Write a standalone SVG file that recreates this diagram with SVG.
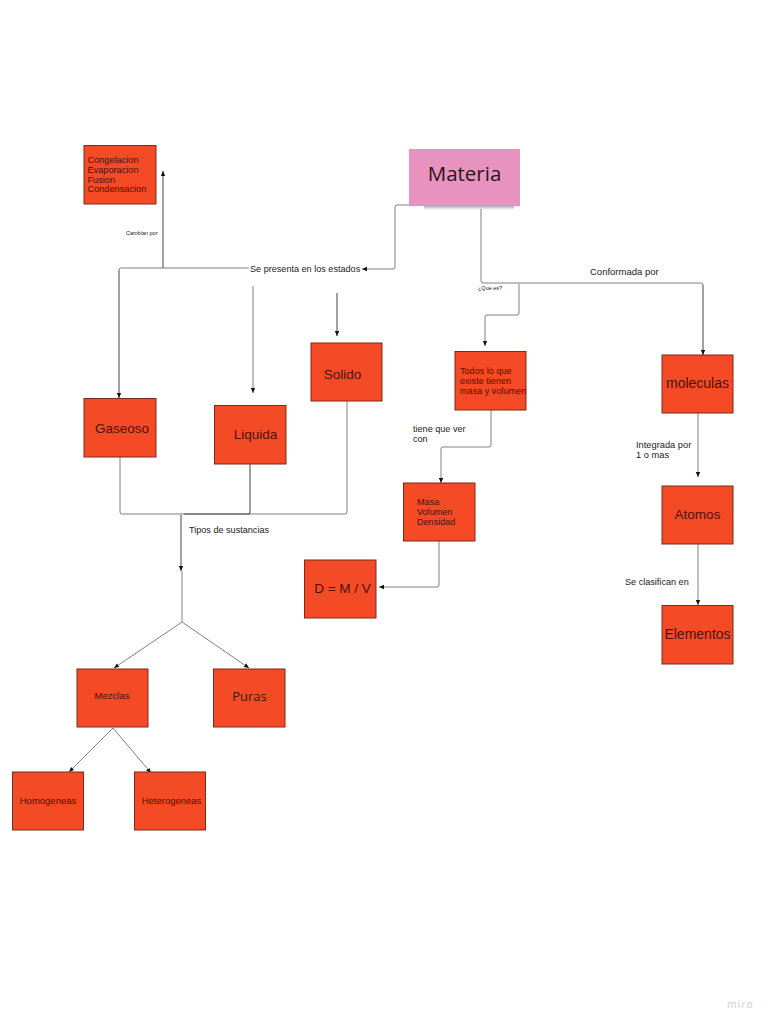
<svg xmlns="http://www.w3.org/2000/svg" width="768" height="1024" viewBox="0 0 768 1024">
<style>
.box{fill:#f44a25;stroke:#7a2b1c;stroke-width:1}
.c{fill:none;stroke:#808080;stroke-width:1}
.d{fill:none;stroke:#555;stroke-width:1.1}
.a{marker-end:url(#ah)}
text{font-family:"Liberation Sans",Arial,sans-serif;fill:#2a1512}
.n{fill:#4a120a}
.l{fill:#222}
</style>
<defs>
<marker id="ah" markerUnits="userSpaceOnUse" markerWidth="6" markerHeight="6" refX="5" refY="2.5" orient="auto"><path d="M0,0.3L5,2.5L0,4.7Z" fill="#111"/></marker>
<linearGradient id="sh" x1="0" y1="0" x2="0" y2="1"><stop offset="0" stop-color="#777" stop-opacity=".8"/><stop offset="1" stop-color="#888" stop-opacity="0"/></linearGradient>
</defs>
<rect width="768" height="1024" fill="#fff"/>
<g id="connectors">
<path class="c a" d="M442 205H397Q395 205 395 207V267Q395 269 393 269H362"/>
<path class="c" d="M250 268H121Q119 268 119 270"/>
<path class="d a" d="M119 270V398"/>
<path class="d a" d="M163 268V171"/>
<path class="c a" d="M253 286V393"/>
<path class="d a" d="M337 293V336"/>
<path class="c" d="M120 457V512Q120 514 122 514H345Q347 514 347 512V401"/>
<path class="d" d="M250 464V512Q250 514 248 514H184"/>
<path class="d a" d="M181 515V571"/>
<path class="c" d="M182 571V622"/>
<path class="c a" d="M182 622L114 668"/>
<path class="c a" d="M182 622L249 668"/>
<path class="c a" d="M113 728L69 772"/>
<path class="c a" d="M113 728L151 773"/>
<path class="c" d="M481 209V281Q481 283 484 283H701Q703 283 703 285"/>
<path class="d a" d="M703 285V355"/>
<path class="c a" d="M519 284V313Q519 315 517 315H487Q485 315 485 317V346"/>
<path class="c a" d="M491 410V445Q491 447 489 447H443Q441 447 441 449V483"/>
<path class="c a" d="M439 541V585Q439 587 437 587H379"/>
<path class="c a" d="M698 413V477"/>
<path class="c a" d="M698 544V605"/>
</g>
<g id="materia">
<rect x="424" y="205" width="90" height="5" fill="url(#sh)"/>
<rect x="409" y="149" width="111" height="57" fill="#e792bf"/>
<text x="464.500" y="180.500" font-size="20.500" text-anchor="middle" style="font-family:'Open Sans','Noto Sans',sans-serif">Materia</text>
</g>
<g id="cambios"><rect class="box" x="84" y="145.500" width="72" height="58.500"/>
<text class="n" font-size="9.200"><tspan x="87.500" y="163">Congelacion</tspan><tspan x="87.500" y="172.800">Evaporacion</tspan><tspan x="87.500" y="182.600">Fusion</tspan><tspan x="87.500" y="192.400">Condensacion</tspan></text></g>
<g id="gaseoso"><rect class="box" x="84" y="398.500" width="72" height="58.500"/><text class="n" x="122" y="433" font-size="13.500" text-anchor="middle">Gaseoso</text></g>
<g id="liquida"><rect class="box" x="214.500" y="405.500" width="71.500" height="58.500"/><text class="n" x="255.500" y="439" font-size="13.500" text-anchor="middle">Liquida</text></g>
<g id="solido"><rect class="box" x="311" y="343" width="71" height="58"/><text class="n" x="342.500" y="379" font-size="13.500" text-anchor="middle">Solido</text></g>
<g id="todos"><rect class="box" x="455" y="351.500" width="71" height="58.500"/>
<text class="n" font-size="9.100"><tspan x="460" y="374">Todos lo que</tspan><tspan x="460" y="384">existe tienen</tspan><tspan x="460" y="393.800">masa y volumen</tspan></text></g>
<g id="moleculas"><rect class="box" x="662" y="355" width="71" height="58"/><text class="n" x="697.500" y="388" font-size="14" text-anchor="middle">moleculas</text></g>
<g id="masa"><rect class="box" x="403.500" y="483" width="71.500" height="58"/>
<text class="n" font-size="9.100"><tspan x="417" y="505">Masa</tspan><tspan x="417" y="514.700">Volumen</tspan><tspan x="417" y="524.500">Densidad</tspan></text></g>
<g id="densidad"><rect class="box" x="304.500" y="560" width="71.500" height="58"/><text class="n" x="342.500" y="593" font-size="13.500" text-anchor="middle">D = M / V</text></g>
<g id="atomos"><rect class="box" x="662" y="486" width="71" height="58"/><text class="n" x="697.500" y="519" font-size="13.500" text-anchor="middle">Atomos</text></g>
<g id="elementos"><rect class="box" x="662" y="605.500" width="71" height="58.500"/><text class="n" x="697.500" y="639" font-size="14" text-anchor="middle">Elementos</text></g>
<g id="mezclas"><rect class="box" x="77" y="669" width="71" height="58"/><text class="n" x="112" y="699" font-size="9.500" text-anchor="middle">Mezclas</text></g>
<g id="puras"><rect class="box" x="213.500" y="669" width="71.500" height="58"/><text class="n" x="249.500" y="701" font-size="13" text-anchor="middle" style="font-family:'Open Sans','Noto Sans',sans-serif">Puras</text></g>
<g id="homogeneas"><rect class="box" x="12.500" y="772" width="71" height="58"/><text class="n" x="48" y="804" font-size="9.500" text-anchor="middle">Homogeneas</text></g>
<g id="heterogeneas"><rect class="box" x="134.500" y="772" width="71" height="58"/><text class="n" x="171.500" y="804" font-size="9.500" text-anchor="middle">Heterogeneas</text></g>
<g id="labels">
<text class="l" x="126" y="234.500" font-size="5.500">Cambian por</text>
<rect x="249" y="262" width="113" height="12" fill="#fff"/>
<text class="l" x="250" y="271.500" font-size="9.100">Se presenta en los estados</text>
<text class="l" x="590" y="274.500" font-size="9.500">Conformada por</text>
<text class="l" x="478" y="289.500" font-size="5.500">¿Que es?</text>
<text class="l" font-size="9.100"><tspan x="413" y="432">tiene que ver</tspan><tspan x="413" y="442">con</tspan></text>
<text class="l" font-size="9.300"><tspan x="636" y="448">Integrada por</tspan><tspan x="636" y="458">1 o mas</tspan></text>
<text class="l" x="625" y="585" font-size="9.100">Se clasifican en</text>
<text class="l" x="189" y="532.500" font-size="9.100">Tipos de sustancias</text>
<text x="727" y="1008" font-size="10" letter-spacing="1" style="fill:#d8d8d8;font-family:'Open Sans',sans-serif;font-weight:600">miro</text>
</g>
</svg>
